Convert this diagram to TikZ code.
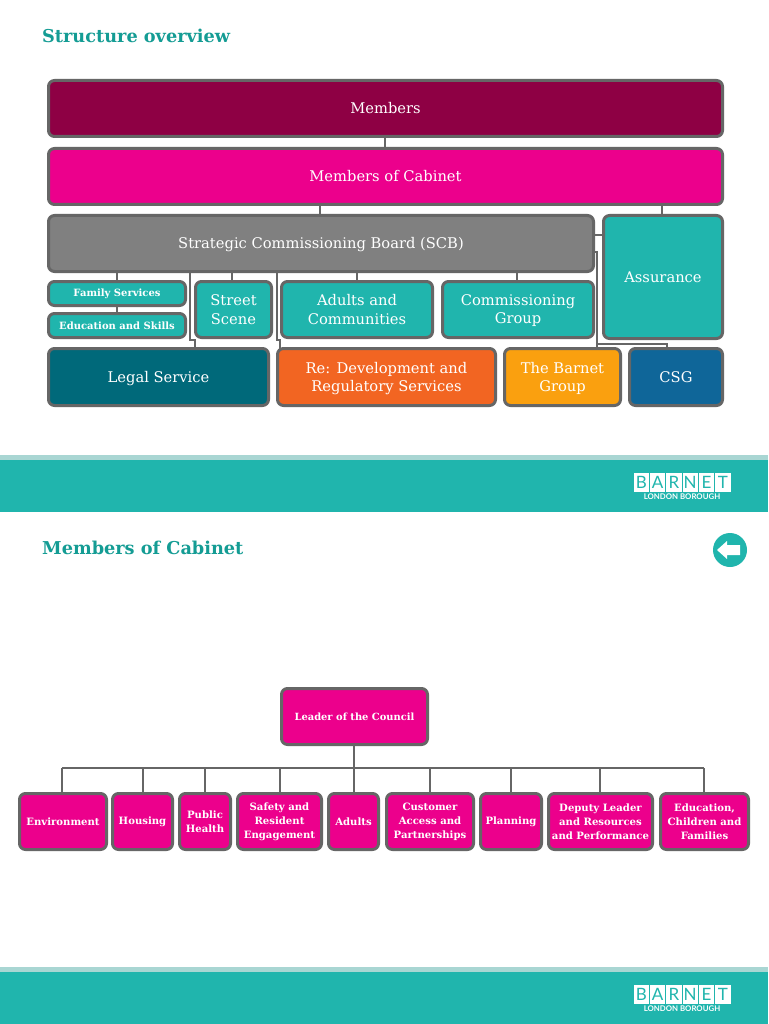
\documentclass[tikz,border=0pt]{standalone}
\usepackage{fontspec}
\setmainfont{DejaVu Serif}
\newfontfamily\logofont{Lato}
\definecolor{teal1}{HTML}{20B5AD}
\definecolor{tealt}{HTML}{149C94}
\definecolor{band}{HTML}{A9D6D3}
\definecolor{edge}{HTML}{666666}
\definecolor{maroon1}{HTML}{8E0044}
\definecolor{pink1}{HTML}{EC008C}
\definecolor{gray1}{HTML}{808080}
\definecolor{petrol}{HTML}{00697A}
\definecolor{orange1}{HTML}{F26522}
\definecolor{amber}{HTML}{FAA00F}
\definecolor{blue1}{HTML}{0F6699}
\tikzset{
  box/.style={draw=edge,line width=3pt,rounded corners=6pt,text=white,align=center,inner sep=0pt,outer sep=0pt,
    font=\fontsize{14.7}{18.5}\selectfont},
  smallb/.style={box,font=\fontsize{10.1}{14.2}\selectfont\bfseries},
  tinyb/.style={box,font=\fontsize{10}{14}\selectfont\bfseries},
  conn/.style={draw=edge,line width=1.6pt},
  conn2/.style={draw=edge,line width=2pt},
  titletext/.style={text=tealt,anchor=west,inner sep=0pt,font=\fontsize{17.7}{20}\selectfont\bfseries},
  logoletter/.style={fill=white,text=teal1,minimum width=15.4pt,minimum height=19pt,inner sep=0pt,font=\logofont\fontsize{17}{17}\selectfont},
  logosub/.style={text=white,inner sep=0pt,font=\logofont\bfseries\fontsize{7.8}{8}\selectfont},
}
\newcommand{\bx}[8]{% style, name, x0, y0, x1, y1, fill, text
  \pgfmathsetmacro{\bw}{#5-#3-3}\pgfmathsetmacro{\bh}{#6-#4-3}
  \node[#1,fill=#7,minimum width=\bw pt,minimum height=\bh pt] (#2) at ({(#3+#5)/2},{(#4+#6)/2}) {#8};}
\newcommand{\dn}[2]{\raisebox{-#1pt}[\height][\depth]{\begin{tabular}{@{}c@{}}#2\end{tabular}}}
\newcommand{\barnetlogo}[2]{% prefix, top y
  \foreach \lett/\kk [count=\i] in {B/a,A/b,R/c,N/d,E/e,T/f}{
    \node[logoletter] (#1\kk) at ({625+16.3*\i},{#2+9.5}) {\lett};}
  \node[logosub] (#1sub) at (682,{#2+24}) {LONDON BOROUGH};}
\begin{document}
\begin{tikzpicture}[x=1pt,y=-1pt]
\useasboundingbox (0,0) rectangle (768,1024);
\fill[white] (0,0) rectangle (768,1024);
% bands
\fill[teal1] (0,460) rectangle (768,512);
\fill[band] (0,455) rectangle (768,460);
\fill[teal1] (0,972) rectangle (768,1024);
\fill[band] (0,967) rectangle (768,972);
\barnetlogo{la}{473}
\barnetlogo{lb}{985}
% titles
\node[titletext] (t1) at (42,36) {Structure overview};
\node[titletext] (t2) at (42,548) {Members of Cabinet};
% back button
\node[circle,fill=teal1,minimum size=34pt,inner sep=0pt] (back) at (730,550) {};
\fill[white] (717,550) -- (727,541) -- (727,545) -- (740,545) -- (740,555) -- (727,555) -- (727,559) -- cycle;
% top chart
\bx{box}{members}{47}{79}{724}{138}{maroon1}{Members}
\bx{box}{cabinet}{47}{147}{724}{206}{pink1}{Members of Cabinet}
\bx{box}{scb}{47}{214}{595}{273}{gray1}{\dn{1}{Strategic Commissioning Board (SCB)}}
\bx{box}{assur}{602}{214}{724}{340}{teal1}{\dn{2}{Assurance}}
\bx{tinyb}{family}{47}{280}{187}{307}{teal1}{Family Services}
\bx{tinyb}{edu}{47}{312}{187}{339}{teal1}{Education and Skills}
\bx{box}{street}{194}{280}{273}{339}{teal1}{Street\\Scene}
\bx{box}{adults}{280}{280}{434}{339}{teal1}{Adults and\\Communities}
\bx{box}{comm}{441}{280}{595}{339}{teal1}{\dn{1.5}{Commissioning\\Group}}
\bx{box}{legal}{47}{347}{270}{407}{petrol}{\dn{2}{Legal Service}}
\bx{box}{re}{276}{347}{497}{407}{orange1}{\dn{2}{Re: Development and\\Regulatory Services}}
\bx{box}{tbg}{503}{347}{622}{407}{amber}{\dn{2}{The Barnet\\Group}}
\bx{box}{csg}{628}{347}{724}{407}{blue1}{\dn{2}{CSG}}
% top connectors
\coordinate (x385) at (385,0);
\coordinate (x320) at (320,0);
\coordinate (x662) at (662,0);
\coordinate (x357) at (357,0);
\coordinate (x517) at (517,0);
\coordinate (x232) at (232,0);
\coordinate (x117) at (117,0);
\draw[conn] (members.south -| x385) -- (cabinet.north -| x385);
\draw[conn] (cabinet.south -| x320) -- (scb.north -| x320);
\draw[conn] (cabinet.south -| x662) -- (assur.north -| x662);
\coordinate (sa) at (0,235);
\draw[conn] (scb.east |- sa) -- (assur.west |- sa);
\draw[conn] (scb.south -| x117) -- (family.north -| x117);
\draw[conn] (family.south -| x117) -- (edu.north -| x117);
\draw[conn] (scb.south -| x232) -- (street.north -| x232);
\draw[conn] (scb.south -| x357) -- (adults.north -| x357);
\draw[conn] (scb.south -| x517) -- (comm.north -| x517);
\coordinate (la1) at (190,340);
\coordinate (la2) at (195,340);
\draw[conn] (scb.south -| la1) -- (la1) -- (la2) -- (legal.north -| la2);
\coordinate (ra1) at (277,340);
\coordinate (ra2) at (280,340);
\draw[conn] (scb.south -| ra1) -- (ra1) -- (ra2) -- (re.north -| ra2);
\coordinate (ba0) at (595,252);
\coordinate (ba1) at (597,252);
\coordinate (ba2) at (597,344);
\coordinate (ba3) at (667,344);
\draw[conn,line width=1.2pt] (scb.east |- ba0) -- (ba1) -- (tbg.north -| ba1);
\draw[conn,line width=1.2pt] (ba2) -- (ba3) -- (csg.north -| ba3);
% bottom chart
\bx{box}{leader}{280}{687}{429}{746}{pink1}{\fontsize{9.9}{14}\selectfont\bfseries Leader of the Council}
\bx{smallb}{c1}{18}{792}{108}{851}{pink1}{Environment}
\bx{smallb}{c2}{111}{792}{174}{851}{pink1}{Housing}
\bx{smallb}{c3}{178}{792}{232}{851}{pink1}{Public\\Health}
\bx{smallb}{c4}{236}{792}{323}{851}{pink1}{Safety and\\Resident\\Engagement}
\bx{smallb}{c5}{327}{792}{380}{851}{pink1}{Adults}
\bx{smallb}{c6}{385}{792}{475}{851}{pink1}{Customer\\Access and\\Partnerships}
\bx{smallb}{c7}{479}{792}{543}{851}{pink1}{Planning}
\bx{smallb}{c8}{547}{792}{654}{851}{pink1}{Deputy Leader\\and Resources\\and Performance}
\bx{smallb}{c9}{659}{792}{750}{851}{pink1}{Education,\\Children and\\Families}
\coordinate (busy) at (0,768);
\draw[conn2] (leader.south -| c5.north) -- (c5.north);
\foreach \c/\xx in {c1/62,c2/143,c3/205,c4/279.5,c6/430,c7/511,c8/600,c9/704}{
  \coordinate (x\c) at (\xx,0);
  \draw[conn2] (busy -| x\c) -- (\c.north -| x\c);}
\draw[conn2] (busy -| xc1) -- (busy -| xc9);
\end{tikzpicture}
\end{document}
